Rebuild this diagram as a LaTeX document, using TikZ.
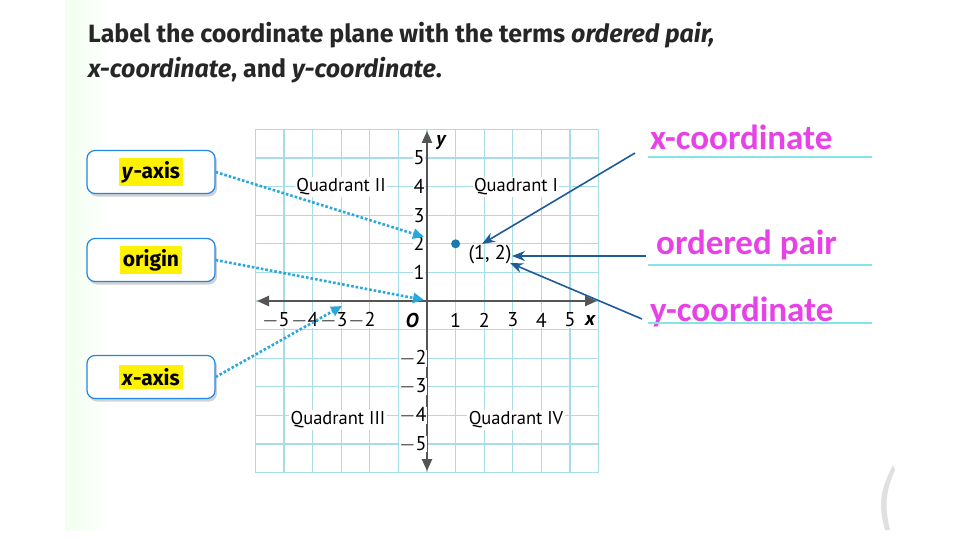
\documentclass[tikz,border=0pt]{standalone}
\usepackage{fontspec}
\setmainfont{Fira Sans}
\newfontfamily\carl{Carlito}
\newfontfamily\ptsans{PT Sans}
\usetikzlibrary{arrows.meta,shadows}
\definecolor{gridc}{HTML}{A8DCE6}
\definecolor{axisc}{HTML}{555555}
\definecolor{cyanarr}{HTML}{2AA8DC}
\definecolor{navy}{HTML}{1F5A99}
\definecolor{mag}{HTML}{E642E6}
\definecolor{hl}{HTML}{FFF200}
\begin{document}
\begin{tikzpicture}[x=1pt,y=-1pt,
  lab/.style={font=\ptsans\fontsize{18.5}{18}\selectfont,fill=white,inner sep=1.5pt},
  num/.style={font=\ptsans\fontsize{20}{20}\selectfont,fill=white,inner sep=0.5pt},
  termbox/.style={draw=cyanarr!80!blue,line width=1.2pt,rounded corners=8pt,fill=white,minimum width=128pt,minimum height=43pt,drop shadow={shadow xshift=2pt,shadow yshift=-3pt,fill=black!35}},
  dotarr/.style={cyanarr,line width=2.6pt,dotted,-{Triangle[length=11pt,width=10pt,fill=cyanarr]}},
  navyarr/.style={navy,line width=1.6pt,-{Stealth[length=13pt,width=10pt]}},
  term/.style={font=\carl\bfseries\fontsize{35}{35}\selectfont,text=mag,anchor=west,inner sep=0pt}]
\useasboundingbox (0,0) rectangle (960,540);
\fill[white] (0,0) rectangle (960,540);
\shade[left color=yellow!12!green!6,right color=white] (65,0) rectangle (110,530);
% title
\node[anchor=west,font=\bfseries\fontsize{25}{25}\selectfont,text=black!85,inner sep=0pt] (t1) at (88,35) {Label the coordinate plane with the terms \textit{ordered pair,}};
\node[anchor=west,font=\bfseries\fontsize{25}{25}\selectfont,text=black!85,inner sep=0pt] (t2) at (88,70) {\textit{x-coordinate}, and \textit{y-coordinate}.};
% grid
\foreach \k in {0,...,12}{
  \draw[gridc,line width=1.2pt] ({255.4+28.6*\k},129.4) -- ({255.4+28.6*\k},472.6);
  \draw[gridc,line width=1.2pt] (255.4,{129.4+28.6*\k}) -- (598.6,{129.4+28.6*\k});
}
% axes
\draw[axisc,line width=2.4pt,{Triangle[length=12pt,width=10pt]}-{Triangle[length=12pt,width=10pt]}] (257,301) -- (597,301);
\draw[axisc,line width=2.4pt,{Triangle[length=12pt,width=10pt]}-{Triangle[length=12pt,width=10pt]}] (427,131) -- (427,471);
% quadrant labels
\node[lab] (q2) at (341,187) {Quadrant II};
\node[lab] (q1) at (516,187) {Quadrant I};
\node[lab] (q3) at (338,420) {Quadrant III};
\node[lab] (q4) at (516,420) {Quadrant IV};
% x numbers
\node[num] (xm5) at (276,320) {$-$5};
\node[num] (xm4) at (305,320) {$-$4};
\node[num] (xm3) at (334,320) {$-$3};
\node[num] (xm2) at (362,320) {$-$2};
\node[num,font=\ptsans\bfseries\itshape\fontsize{20}{20}\selectfont] (O) at (412,320) {O};
\foreach \i in {1,...,5}{\node[num] (x\i) at ({427+28.6*\i},320) {\i};}
\node[num,font=\ptsans\bfseries\itshape\fontsize{20}{20}\selectfont] (xl) at (590,320) {x};
% y numbers
\foreach \i in {1,...,5}{\node[num] (y\i) at (419,{301-28.6*\i}) {\i};}
\foreach \i in {2,...,5}{\node[num] (ym\i) at (413,{301+28.6*\i}) {$-$\i};}
\node[num,font=\ptsans\bfseries\itshape\fontsize{20}{20}\selectfont,fill=none] (yl) at (441,143) {y};
% point
\fill[navy!80!cyan] (455.6,243.8) circle (4.5pt);
\node[num,fill=none] (pt) at (490,255) {(1, 2)};
% term boxes
\node[termbox] (yb) at (151,172) {\bfseries\fontsize{21}{21}\selectfont\colorbox{hl}{\textit{y}-axis}};
\node[termbox] (ob) at (151,260) {\bfseries\fontsize{21}{21}\selectfont\colorbox{hl}{origin}};
\node[termbox] (xb) at (151,377) {\bfseries\fontsize{21}{21}\selectfont\colorbox{hl}{\textit{x}-axis}};
\coordinate (ya) at (424,237);
\coordinate (oa) at (424,300);
\coordinate (xa) at (342,306);
\draw[dotarr] (yb.east) -- (ya);
\draw[dotarr] (ob.east) -- (oa);
\draw[dotarr] (xb.east) -- (xa);
% right terms
\node[term] (xc) at (650,137) {x-coordinate};
\node[term] (op) at (656,245) {ordered pair};
\node[term] (yc) at (650,312) {y-coordinate};
\draw[gridc!80!cyan,line width=1.3pt] (648,157) -- (872,157);
\draw[gridc!80!cyan,line width=1.3pt] (648,265) -- (872,265);
\draw[gridc!80!cyan,line width=1.3pt] (648,323) -- (872,323);
\coordinate (s1) at (635,153);
\coordinate (s2) at (646,256);
\coordinate (s3) at (642,319);
\draw[navyarr] (s1) -- (482,244);
\draw[navyarr] (s2) -- (512,256);
\draw[navyarr] (s3) -- (510,263);
% corner sliver
\fill[black!12] (893,465) .. controls (880,490) and (878,505) .. (885,530) -- (890,530) .. controls (884,505) and (886,490) .. (895,470) -- cycle;
\end{tikzpicture}
\end{document}
